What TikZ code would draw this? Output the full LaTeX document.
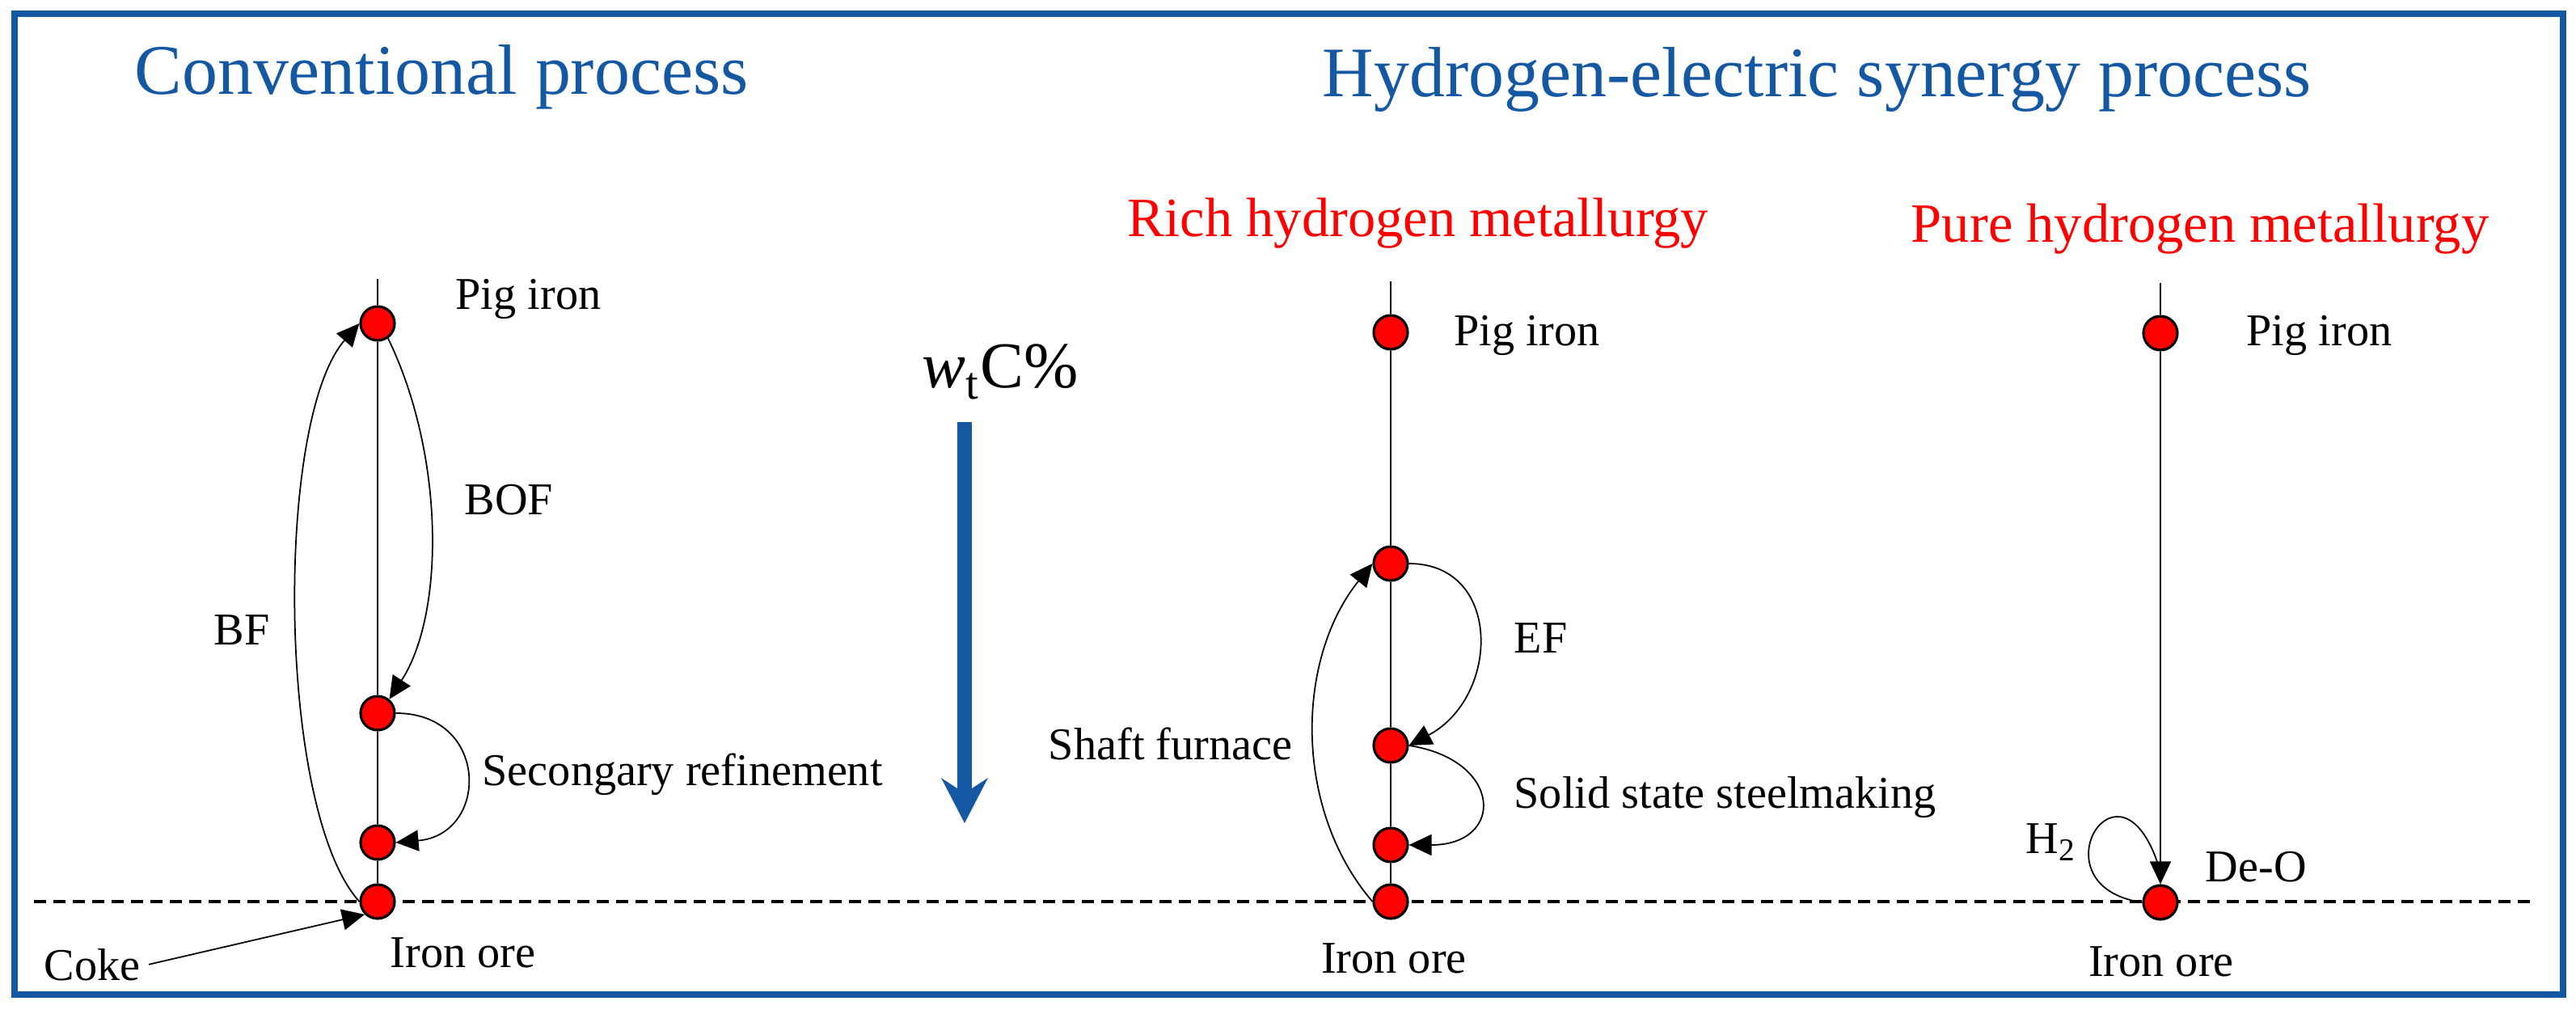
\documentclass[tikz,border=0pt]{standalone}
\usepackage{fontspec}
\setmainfont{Liberation Serif}
\usetikzlibrary{arrows.meta}

\begin{document}
\begin{tikzpicture}[
  dot/.style={circle,draw=black,line width=0.9pt,fill=red,minimum size=0.42cm,inner sep=0pt},
  lbl/.style={font=\fontsize{16}{19}\selectfont,inner sep=0pt},
  route/.style={line width=0.5pt,-{Triangle[length=0.28cm,width=0.26cm]}},
  spine/.style={line width=0.6pt},
  heading/.style={text=titleblue,font=\fontsize{25}{30}\selectfont,inner sep=0pt},
  subheading/.style={text=red,font=\fontsize{19.5}{23}\selectfont,inner sep=0pt}
]
% Define colours
\definecolor{titleblue}{RGB}{20,88,163}

\useasboundingbox (0,0) rectangle (31.86,12.58);

% Draw frame and ore level
\draw[titleblue,line width=0.08cm] (0.18,0.28) rectangle (31.70,12.41);
\draw[line width=0.9pt,dash pattern=on 0.15cm off 0.09cm] (0.42,1.43) -- (31.36,1.43);

% Add headings
\node[heading,anchor=base] (conv) at (5.46,11.41) {Conventional process};
\node[heading,anchor=base west] (hes) at (16.35,11.38) {Hydrogen-electric synergy process};
\node[subheading,anchor=base] (rich) at (17.54,9.65) {Rich hydrogen metallurgy};
\node[subheading,anchor=base] (pure) at (27.21,9.58) {Pure hydrogen metallurgy};

% Conventional route
\coordinate (top1) at (4.67,9.13);
\node[dot] (P1) at (4.67,8.58) {};
\node[dot] (S1) at (4.67,3.76) {};
\node[dot] (R1) at (4.67,2.16) {};
\node[dot] (O1) at (4.67,1.43) {};
\draw[spine] (top1) -- (P1) -- (S1) -- (R1) -- (O1);

\node[lbl,anchor=base west] (pig1) at (5.63,8.75) {Pig iron};
\node[lbl,anchor=base west] (bof) at (5.74,6.21) {BOF};
\node[lbl,anchor=base west] (bf) at (2.64,4.60) {BF};
\node[lbl,anchor=base west] (sec) at (5.96,2.86) {Secongary refinement};
\node[lbl,anchor=base west] (ore1) at (4.82,0.62) {Iron ore};
\node[lbl,anchor=base west,inner sep=0.1cm] (coke) at (0.44,0.46) {Coke};

\draw[route] (O1.west) .. controls +(-1.02,1.13) and +(-1.05,-1.20) .. (P1.west);
\draw[route] (P1.-55) .. controls +(0.70,-1.44) and +(0.69,1.06) .. (S1.50);
\draw[route] (S1.east) .. controls +(1.16,0) and +(1.16,0.1) .. (R1.east);
\draw[route] (coke.east) -- (O1.south west);

% Carbon content falls downwards
\node[anchor=base west,inner sep=0pt,font=\fontsize{23}{27}\selectfont] (wtc) at (11.40,7.78) {\textit{w}\textsubscript{t}C\%};
\coordinate (ctop) at (11.93,7.36);
\coordinate (cbot) at (11.93,2.40);
\draw[titleblue,line width=0.18cm,-{Stealth[length=0.56cm,width=0.58cm,inset=0.19cm,line width=0pt]}] (ctop) -- (cbot);

% Rich hydrogen route
\coordinate (top2) at (17.20,9.10);
\node[dot] (P2) at (17.20,8.47) {};
\node[dot] (N2) at (17.20,5.61) {};
\node[dot] (M2) at (17.20,3.36) {};
\node[dot] (R2) at (17.20,2.13) {};
\node[dot] (O2) at (17.20,1.43) {};
\draw[spine] (top2) -- (P2) -- (N2) -- (M2) -- (R2) -- (O2);

\node[lbl,anchor=base west] (pig2) at (17.98,8.30) {Pig iron};
\node[lbl,anchor=base west] (ef) at (18.72,4.50) {EF};
\node[lbl,anchor=base west] (solid) at (18.72,2.58) {Solid state steelmaking};
\node[lbl,anchor=base east] (shaft) at (15.99,3.19) {Shaft furnace};
\node[lbl,anchor=base] (ore2) at (17.24,0.55) {Iron ore};

\draw[route] (O2.west) .. controls +(-0.97,1.13) and +(-0.96,-1.20) .. (N2.west);
\draw[route] (N2.east) .. controls +(1.16,0) and +(1.13,0.60) .. (M2.east);
\draw[route] (M2.east) .. controls +(1.17,-0.18) and +(1.19,0) .. (R2.east);

% Pure hydrogen route
\coordinate (top3) at (26.72,9.08);
\node[dot] (P3) at (26.72,8.46) {};
\node[dot] (O3) at (26.72,1.42) {};
\draw[route,line width=0.6pt] (top3) -- (P3) -- (O3);

\node[lbl,anchor=base west] (pig3) at (27.78,8.30) {Pig iron};
\node[lbl,anchor=base west] (h2) at (25.05,2.03) {H\textsubscript{2}};
\node[lbl,anchor=base west] (deo) at (27.27,1.68) {De-O};
\node[lbl,anchor=base] (ore3) at (26.73,0.51) {Iron ore};

\draw[line width=0.5pt] (O3.west) .. controls +(-1.38,0.20) and +(-0.48,1.65) .. ([yshift=0.15cm]O3.north);
\end{tikzpicture}
\end{document}
